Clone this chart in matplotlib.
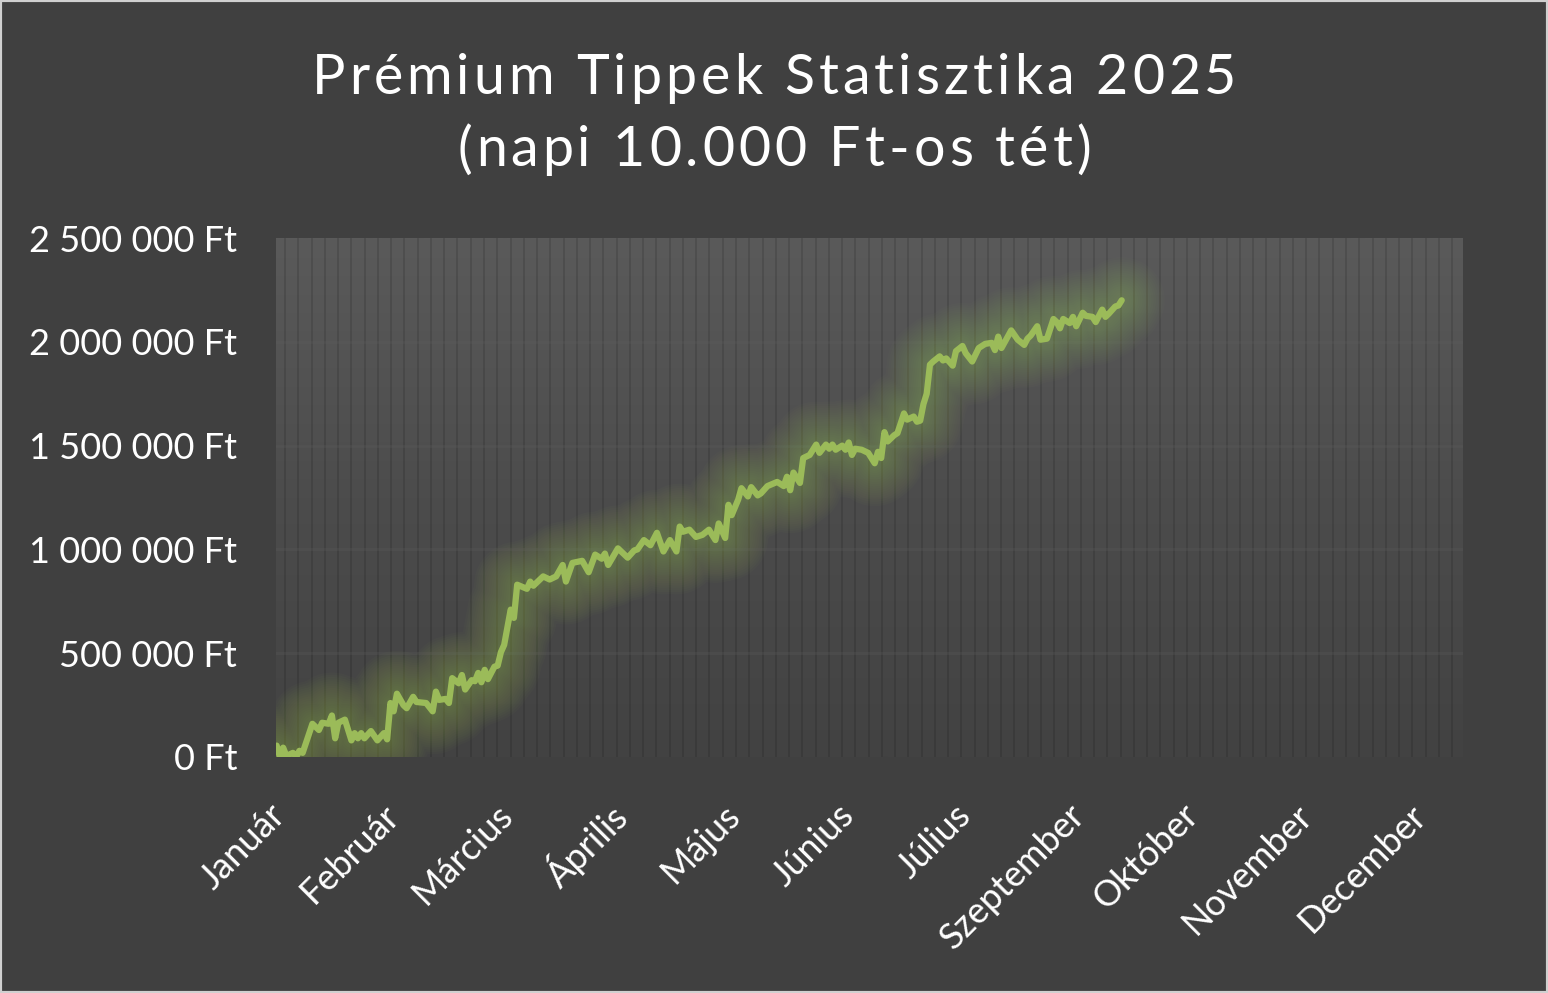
import numpy as np
import matplotlib
matplotlib.use("Agg")
import matplotlib.pyplot as plt
from matplotlib.patches import Rectangle

plt.rcParams['font.family'] = ['Lato', 'DejaVu Sans']

# napok (az év napja, 0 = jan. 1.) és az egyenleg Ft-ban
days = [0, 1, 2, 3, 5, 6, 7, 8, 11, 13, 14, 16, 17, 18, 19, 21, 23, 24, 25, 26,
        27, 29, 31, 33, 34, 35, 36, 37, 39, 40, 42, 43, 46, 48, 49, 50, 52, 53, 54, 56,
        57, 58, 60, 61, 62, 63, 64, 65, 67, 68, 69, 70, 72, 73, 74, 77, 78, 79, 82, 84,
        86, 88, 89, 91, 94, 96, 98, 100, 101, 102, 105, 108, 110, 111, 113, 115, 117, 119, 121, 123,
        124, 125, 127, 129, 131, 133, 135, 136, 138, 139, 140, 142, 143, 145, 146, 148, 149, 151, 154, 156,
        157, 158, 159, 161, 162, 164, 166, 167, 169, 170, 171, 172, 174, 175, 176, 177, 178, 180, 182, 184,
        185, 186, 187, 188, 190, 191, 193, 194, 196, 197, 198, 199, 200, 201, 202, 204, 205, 206, 208, 209,
        211, 212, 214, 216, 218, 220, 221, 222, 223, 226, 228, 230, 231, 232, 234, 235, 237, 239, 240, 241,
        242, 244, 245, 246, 248, 249, 251, 252, 254, 255, 256, 258, 259, 260]
balance = [55000, 0, 45000, 5000, 20000, 0, 30000, 20000, 160000, 130000, 165000, 160000, 200000, 90000, 165000, 180000, 80000, 115000, 90000, 115000,
           90000, 125000, 80000, 115000, 85000, 260000, 220000, 305000, 250000, 235000, 290000, 265000, 260000, 220000, 315000, 275000, 280000, 260000, 380000, 355000,
           395000, 325000, 370000, 365000, 405000, 360000, 420000, 375000, 435000, 440000, 505000, 540000, 710000, 670000, 830000, 810000, 845000, 825000, 870000, 855000,
           870000, 925000, 845000, 935000, 945000, 890000, 975000, 955000, 980000, 925000, 1005000, 960000, 995000, 1000000, 1045000, 1020000, 1080000, 990000, 1045000, 990000,
           1110000, 1085000, 1095000, 1060000, 1070000, 1095000, 1045000, 1125000, 1055000, 1215000, 1165000, 1240000, 1295000, 1255000, 1300000, 1260000, 1270000, 1305000, 1325000, 1305000,
           1350000, 1285000, 1370000, 1320000, 1440000, 1455000, 1505000, 1465000, 1505000, 1485000, 1505000, 1480000, 1500000, 1480000, 1515000, 1455000, 1485000, 1480000, 1465000, 1415000,
           1470000, 1440000, 1565000, 1520000, 1550000, 1560000, 1655000, 1625000, 1640000, 1615000, 1620000, 1700000, 1750000, 1890000, 1905000, 1930000, 1910000, 1920000, 1885000, 1955000,
           1980000, 1945000, 1905000, 1970000, 1990000, 1995000, 1960000, 2025000, 1970000, 2055000, 2010000, 1985000, 2015000, 2030000, 2075000, 2010000, 2015000, 2110000, 2095000, 2065000,
           2110000, 2090000, 2120000, 2075000, 2140000, 2125000, 2120000, 2095000, 2155000, 2120000, 2135000, 2170000, 2175000, 2200000]

month_labels = ['Január', 'Február', 'Március', 'Április', 'Május', 'Június',
                'Július', 'Szeptember', 'Október', 'November', 'December']
month_ticks = [1, 36, 71, 106, 141, 176, 212, 247, 282, 317, 352]
y_ticks = [0, 500000, 1000000, 1500000, 2000000, 2500000]
y_labels = ['0 Ft', '500 000 Ft', '1 000 000 Ft', '1 500 000 Ft', '2 000 000 Ft', '2 500 000 Ft']
title_lines = ['Prémium Tippek Statisztika 2025', '(napi 10.000 Ft-os tét)']

bg = '#404040'
green = '#9BBB59'

fig = plt.figure(figsize=(15.48, 9.93), dpi=100, facecolor=bg)
ax = fig.add_axes([276 / 1548, 1 - 757 / 993, (1463 - 276) / 1548, (757 - 238) / 993])
ax.set_facecolor(bg)
ax.set_xlim(-0.2, 365)
ax.set_ylim(0, 2500000)

# plot area gradient (lighter on top)
grad = np.linspace(0, 1, 256).reshape(-1, 1)
cmap = matplotlib.colors.LinearSegmentedColormap.from_list('g', ['#424242', '#4c4c4c', '#5a5a5a'])
ax.imshow(grad, extent=[-0.2, 365, 0, 2500000], origin='lower', aspect='auto', cmap=cmap, zorder=0)

# vertical grid lines
for gx in np.arange(2.6, 365, 4.08):
    ax.axvline(gx, color='black', alpha=0.13, lw=1.3, zorder=1)
for gy in y_ticks[1:-1]:
    ax.axhline(gy, color='#5c5c5c', alpha=0.3, lw=2, zorder=1.5)

# soft glow: many thin layers
for w in np.linspace(62, 8, 18):
    ax.plot(days, balance, color=green, lw=w, alpha=0.028, solid_capstyle='round',
            solid_joinstyle='round', zorder=2)
ax.plot(days, balance, color=green, lw=4.5, solid_capstyle='round', solid_joinstyle='round', zorder=3)

for s in ax.spines.values():
    s.set_visible(False)

ax.set_yticks(y_ticks)
ax.set_yticklabels(y_labels)
ax.set_xticks(month_ticks)
ax.set_xticklabels(month_labels, rotation=45, ha='right', va='center', rotation_mode='anchor')
ax.tick_params(axis='both', length=0, colors='white', labelsize=26)
ax.tick_params(axis='x', pad=38)
ax.tick_params(axis='y', pad=28)

# title with letter spacing
renderer = fig.canvas.get_renderer()
def spaced_text(s, ycen, size, spacing):
    probe = fig.text(0, 0, s, fontsize=size)
    widths = []
    for i in range(len(s) + 1):
        probe.set_text(s[:i] if i else '')
        widths.append(probe.get_window_extent(renderer).width if i else 0.0)
    probe.remove()
    total = widths[-1] + spacing * (len(s) - 1)
    x0 = (1548 - total) / 2
    for i, ch in enumerate(s):
        fig.text((x0 + widths[i] + spacing * i) / 1548, 1 - ycen / 993, ch, color='white',
                 fontsize=size, ha='left', va='center')

spaced_text(title_lines[0], 78, 40, 4.0)
spaced_text(title_lines[1], 151, 40, 4.0)

fig.patches.append(Rectangle((0, 0), 1, 1, transform=fig.transFigure, fill=False,
                             ec='#d0d0d0', lw=3))

fig.savefig('out.png', dpi=100, facecolor=bg)
